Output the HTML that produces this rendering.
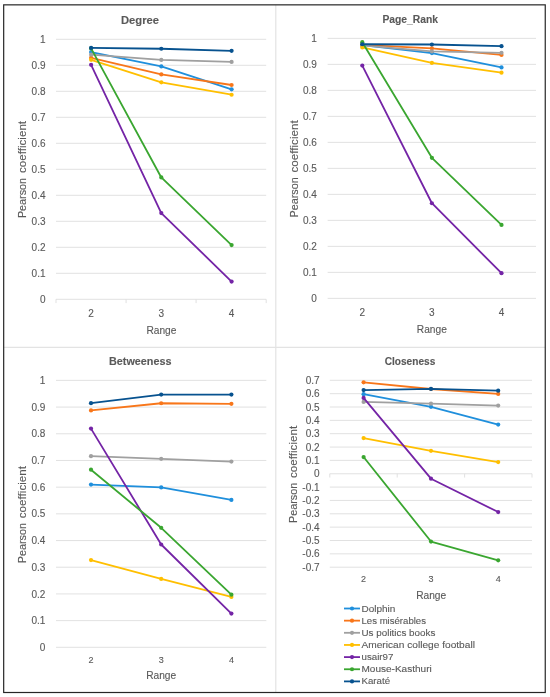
<!DOCTYPE html>
<html><head><meta charset="utf-8"><title>chart</title>
<style>html,body{margin:0;padding:0;background:#fff;width:550px;height:697px;overflow:hidden}svg{display:block;filter:blur(0.3px)}text{font-family:"Liberation Sans", sans-serif}</style>
</head><body>
<svg width="550" height="697" viewBox="0 0 550 697" font-family='"Liberation Sans", sans-serif' fill="#595959">
<style>text{stroke:#595959;stroke-width:0.12px;paint-order:stroke}</style>
<rect x="0" y="0" width="550" height="697" fill="#ffffff"/>
<line x1="275.8" y1="5" x2="275.8" y2="692" stroke="#e3e3e3" stroke-width="1.2"/>
<line x1="4" y1="347.3" x2="545" y2="347.3" stroke="#e3e3e3" stroke-width="1.2"/>
<line x1="56" y1="299.3" x2="266.2" y2="299.3" stroke="#dedede" stroke-width="0.9"/>
<line x1="56" y1="273.3" x2="266.2" y2="273.3" stroke="#dedede" stroke-width="0.9"/>
<line x1="56" y1="247.3" x2="266.2" y2="247.3" stroke="#dedede" stroke-width="0.9"/>
<line x1="56" y1="221.3" x2="266.2" y2="221.3" stroke="#dedede" stroke-width="0.9"/>
<line x1="56" y1="195.3" x2="266.2" y2="195.3" stroke="#dedede" stroke-width="0.9"/>
<line x1="56" y1="169.3" x2="266.2" y2="169.3" stroke="#dedede" stroke-width="0.9"/>
<line x1="56" y1="143.3" x2="266.2" y2="143.3" stroke="#dedede" stroke-width="0.9"/>
<line x1="56" y1="117.3" x2="266.2" y2="117.3" stroke="#dedede" stroke-width="0.9"/>
<line x1="56" y1="91.3" x2="266.2" y2="91.3" stroke="#dedede" stroke-width="0.9"/>
<line x1="56" y1="65.3" x2="266.2" y2="65.3" stroke="#dedede" stroke-width="0.9"/>
<line x1="56" y1="39.3" x2="266.2" y2="39.3" stroke="#dedede" stroke-width="0.9"/>
<line x1="56" y1="299.3" x2="56" y2="303.1" stroke="#dedede" stroke-width="0.9"/>
<line x1="126.1" y1="299.3" x2="126.1" y2="303.1" stroke="#dedede" stroke-width="0.9"/>
<line x1="196.1" y1="299.3" x2="196.1" y2="303.1" stroke="#dedede" stroke-width="0.9"/>
<line x1="266.2" y1="299.3" x2="266.2" y2="303.1" stroke="#dedede" stroke-width="0.9"/>
<text x="45.5" y="302.9" font-size="10" text-anchor="end" >0</text>
<text x="45.5" y="276.9" font-size="10" text-anchor="end" >0.1</text>
<text x="45.5" y="250.9" font-size="10" text-anchor="end" >0.2</text>
<text x="45.5" y="224.9" font-size="10" text-anchor="end" >0.3</text>
<text x="45.5" y="198.9" font-size="10" text-anchor="end" >0.4</text>
<text x="45.5" y="172.9" font-size="10" text-anchor="end" >0.5</text>
<text x="45.5" y="146.9" font-size="10" text-anchor="end" >0.6</text>
<text x="45.5" y="120.9" font-size="10" text-anchor="end" >0.7</text>
<text x="45.5" y="94.9" font-size="10" text-anchor="end" >0.8</text>
<text x="45.5" y="68.9" font-size="10" text-anchor="end" >0.9</text>
<text x="45.5" y="42.9" font-size="10" text-anchor="end" >1</text>
<text x="91.1" y="316.6" font-size="10" text-anchor="middle" >2</text>
<text x="161.3" y="316.6" font-size="10" text-anchor="middle" >3</text>
<text x="231.6" y="316.6" font-size="10" text-anchor="middle" >4</text>
<text x="161.4" y="333.7" font-size="10.2" text-anchor="middle" textLength="30" lengthAdjust="spacingAndGlyphs" >Range</text>
<text transform="translate(25.9,218.1) rotate(-90)" x="0" y="0" font-size="10.6" textLength="40.2" lengthAdjust="spacingAndGlyphs">Pearson</text>
<text transform="translate(25.9,173.1) rotate(-90)" x="0" y="0" font-size="10.6" textLength="52.2" lengthAdjust="spacingAndGlyphs">coefficient</text>
<text x="140" y="24.1" font-size="10.6" text-anchor="middle" font-weight="bold" textLength="38" lengthAdjust="spacingAndGlyphs" >Degree</text>
<polyline points="91.1,52.04 161.3,66.39 231.6,89.3" fill="none" stroke="#1f8fdc" stroke-width="1.8" stroke-linejoin="round" stroke-linecap="round"/>
<circle cx="91.1" cy="52.04" r="2.1" fill="#1f8fdc"/>
<circle cx="161.3" cy="66.39" r="2.1" fill="#1f8fdc"/>
<circle cx="231.6" cy="89.3" r="2.1" fill="#1f8fdc"/>
<polyline points="91.1,57.76 161.3,74.45 231.6,85.01" fill="none" stroke="#f8761a" stroke-width="1.8" stroke-linejoin="round" stroke-linecap="round"/>
<circle cx="91.1" cy="57.76" r="2.1" fill="#f8761a"/>
<circle cx="161.3" cy="74.45" r="2.1" fill="#f8761a"/>
<circle cx="231.6" cy="85.01" r="2.1" fill="#f8761a"/>
<polyline points="91.1,54.64 161.3,59.97 231.6,61.97" fill="none" stroke="#a0a0a0" stroke-width="1.8" stroke-linejoin="round" stroke-linecap="round"/>
<circle cx="91.1" cy="54.64" r="2.1" fill="#a0a0a0"/>
<circle cx="161.3" cy="59.97" r="2.1" fill="#a0a0a0"/>
<circle cx="231.6" cy="61.97" r="2.1" fill="#a0a0a0"/>
<polyline points="91.1,59.84 161.3,82.36 231.6,94.73" fill="none" stroke="#ffbf00" stroke-width="1.8" stroke-linejoin="round" stroke-linecap="round"/>
<circle cx="91.1" cy="59.84" r="2.1" fill="#ffbf00"/>
<circle cx="161.3" cy="82.36" r="2.1" fill="#ffbf00"/>
<circle cx="231.6" cy="94.73" r="2.1" fill="#ffbf00"/>
<polyline points="91.1,64.78 161.3,213.11 231.6,281.54" fill="none" stroke="#7424a6" stroke-width="1.8" stroke-linejoin="round" stroke-linecap="round"/>
<circle cx="91.1" cy="64.78" r="2.1" fill="#7424a6"/>
<circle cx="161.3" cy="213.11" r="2.1" fill="#7424a6"/>
<circle cx="231.6" cy="281.54" r="2.1" fill="#7424a6"/>
<polyline points="91.1,48.4 161.3,177.46 231.6,245.09" fill="none" stroke="#3aa630" stroke-width="1.8" stroke-linejoin="round" stroke-linecap="round"/>
<circle cx="91.1" cy="48.4" r="2.1" fill="#3aa630"/>
<circle cx="161.3" cy="177.46" r="2.1" fill="#3aa630"/>
<circle cx="231.6" cy="245.09" r="2.1" fill="#3aa630"/>
<polyline points="91.1,47.88 161.3,48.74 231.6,50.79" fill="none" stroke="#07528f" stroke-width="1.8" stroke-linejoin="round" stroke-linecap="round"/>
<circle cx="91.1" cy="47.88" r="2.1" fill="#07528f"/>
<circle cx="161.3" cy="48.74" r="2.1" fill="#07528f"/>
<circle cx="231.6" cy="50.79" r="2.1" fill="#07528f"/>
<line x1="327.7" y1="298.4" x2="536" y2="298.4" stroke="#dedede" stroke-width="0.9"/>
<line x1="327.7" y1="272.4" x2="536" y2="272.4" stroke="#dedede" stroke-width="0.9"/>
<line x1="327.7" y1="246.4" x2="536" y2="246.4" stroke="#dedede" stroke-width="0.9"/>
<line x1="327.7" y1="220.4" x2="536" y2="220.4" stroke="#dedede" stroke-width="0.9"/>
<line x1="327.7" y1="194.4" x2="536" y2="194.4" stroke="#dedede" stroke-width="0.9"/>
<line x1="327.7" y1="168.4" x2="536" y2="168.4" stroke="#dedede" stroke-width="0.9"/>
<line x1="327.7" y1="142.4" x2="536" y2="142.4" stroke="#dedede" stroke-width="0.9"/>
<line x1="327.7" y1="116.4" x2="536" y2="116.4" stroke="#dedede" stroke-width="0.9"/>
<line x1="327.7" y1="90.4" x2="536" y2="90.4" stroke="#dedede" stroke-width="0.9"/>
<line x1="327.7" y1="64.4" x2="536" y2="64.4" stroke="#dedede" stroke-width="0.9"/>
<line x1="327.7" y1="38.4" x2="536" y2="38.4" stroke="#dedede" stroke-width="0.9"/>
<text x="316.9" y="302" font-size="10" text-anchor="end" >0</text>
<text x="316.9" y="276" font-size="10" text-anchor="end" >0.1</text>
<text x="316.9" y="250" font-size="10" text-anchor="end" >0.2</text>
<text x="316.9" y="224" font-size="10" text-anchor="end" >0.3</text>
<text x="316.9" y="198" font-size="10" text-anchor="end" >0.4</text>
<text x="316.9" y="172" font-size="10" text-anchor="end" >0.5</text>
<text x="316.9" y="146" font-size="10" text-anchor="end" >0.6</text>
<text x="316.9" y="120" font-size="10" text-anchor="end" >0.7</text>
<text x="316.9" y="94" font-size="10" text-anchor="end" >0.8</text>
<text x="316.9" y="68" font-size="10" text-anchor="end" >0.9</text>
<text x="316.9" y="42" font-size="10" text-anchor="end" >1</text>
<text x="362.3" y="316.3" font-size="10" text-anchor="middle" >2</text>
<text x="431.9" y="316.3" font-size="10" text-anchor="middle" >3</text>
<text x="501.5" y="316.3" font-size="10" text-anchor="middle" >4</text>
<text x="431.8" y="333.4" font-size="10.2" text-anchor="middle" textLength="30" lengthAdjust="spacingAndGlyphs" >Range</text>
<text transform="translate(298,217.5) rotate(-90)" x="0" y="0" font-size="10.6" textLength="40.2" lengthAdjust="spacingAndGlyphs">Pearson</text>
<text transform="translate(298,172.5) rotate(-90)" x="0" y="0" font-size="10.6" textLength="52.2" lengthAdjust="spacingAndGlyphs">coefficient</text>
<text x="410.2" y="23.1" font-size="10.6" text-anchor="middle" font-weight="bold" textLength="55.6" lengthAdjust="spacingAndGlyphs" >Page_Rank</text>
<polyline points="362.3,45.16 431.9,53.09 501.5,67.39" fill="none" stroke="#1f8fdc" stroke-width="1.8" stroke-linejoin="round" stroke-linecap="round"/>
<circle cx="362.3" cy="45.16" r="2.1" fill="#1f8fdc"/>
<circle cx="431.9" cy="53.09" r="2.1" fill="#1f8fdc"/>
<circle cx="501.5" cy="67.39" r="2.1" fill="#1f8fdc"/>
<polyline points="362.3,44.9 431.9,48.28 501.5,54.96" fill="none" stroke="#f8761a" stroke-width="1.8" stroke-linejoin="round" stroke-linecap="round"/>
<circle cx="362.3" cy="44.9" r="2.1" fill="#f8761a"/>
<circle cx="431.9" cy="48.28" r="2.1" fill="#f8761a"/>
<circle cx="501.5" cy="54.96" r="2.1" fill="#f8761a"/>
<polyline points="362.3,45.42 431.9,51.4 501.5,52.8" fill="none" stroke="#a0a0a0" stroke-width="1.8" stroke-linejoin="round" stroke-linecap="round"/>
<circle cx="362.3" cy="45.42" r="2.1" fill="#a0a0a0"/>
<circle cx="431.9" cy="51.4" r="2.1" fill="#a0a0a0"/>
<circle cx="501.5" cy="52.8" r="2.1" fill="#a0a0a0"/>
<polyline points="362.3,47.4 431.9,62.89 501.5,72.72" fill="none" stroke="#ffbf00" stroke-width="1.8" stroke-linejoin="round" stroke-linecap="round"/>
<circle cx="362.3" cy="47.4" r="2.1" fill="#ffbf00"/>
<circle cx="431.9" cy="62.89" r="2.1" fill="#ffbf00"/>
<circle cx="501.5" cy="72.72" r="2.1" fill="#ffbf00"/>
<polyline points="362.3,65.6 431.9,203.24 501.5,273.21" fill="none" stroke="#7424a6" stroke-width="1.8" stroke-linejoin="round" stroke-linecap="round"/>
<circle cx="362.3" cy="65.6" r="2.1" fill="#7424a6"/>
<circle cx="431.9" cy="203.24" r="2.1" fill="#7424a6"/>
<circle cx="501.5" cy="273.21" r="2.1" fill="#7424a6"/>
<polyline points="362.3,42.17 431.9,157.79 501.5,224.9" fill="none" stroke="#3aa630" stroke-width="1.8" stroke-linejoin="round" stroke-linecap="round"/>
<circle cx="362.3" cy="42.17" r="2.1" fill="#3aa630"/>
<circle cx="431.9" cy="157.79" r="2.1" fill="#3aa630"/>
<circle cx="501.5" cy="224.9" r="2.1" fill="#3aa630"/>
<polyline points="362.3,44.25 431.9,44.48 501.5,46.2" fill="none" stroke="#07528f" stroke-width="1.8" stroke-linejoin="round" stroke-linecap="round"/>
<circle cx="362.3" cy="44.25" r="2.1" fill="#07528f"/>
<circle cx="431.9" cy="44.48" r="2.1" fill="#07528f"/>
<circle cx="501.5" cy="46.2" r="2.1" fill="#07528f"/>
<line x1="56" y1="647.3" x2="266.3" y2="647.3" stroke="#dedede" stroke-width="0.9"/>
<line x1="56" y1="620.61" x2="266.3" y2="620.61" stroke="#dedede" stroke-width="0.9"/>
<line x1="56" y1="593.92" x2="266.3" y2="593.92" stroke="#dedede" stroke-width="0.9"/>
<line x1="56" y1="567.23" x2="266.3" y2="567.23" stroke="#dedede" stroke-width="0.9"/>
<line x1="56" y1="540.54" x2="266.3" y2="540.54" stroke="#dedede" stroke-width="0.9"/>
<line x1="56" y1="513.85" x2="266.3" y2="513.85" stroke="#dedede" stroke-width="0.9"/>
<line x1="56" y1="487.16" x2="266.3" y2="487.16" stroke="#dedede" stroke-width="0.9"/>
<line x1="56" y1="460.47" x2="266.3" y2="460.47" stroke="#dedede" stroke-width="0.9"/>
<line x1="56" y1="433.78" x2="266.3" y2="433.78" stroke="#dedede" stroke-width="0.9"/>
<line x1="56" y1="407.09" x2="266.3" y2="407.09" stroke="#dedede" stroke-width="0.9"/>
<line x1="56" y1="380.4" x2="266.3" y2="380.4" stroke="#dedede" stroke-width="0.9"/>
<text x="45.3" y="650.9" font-size="10" text-anchor="end" >0</text>
<text x="45.3" y="624.21" font-size="10" text-anchor="end" >0.1</text>
<text x="45.3" y="597.52" font-size="10" text-anchor="end" >0.2</text>
<text x="45.3" y="570.83" font-size="10" text-anchor="end" >0.3</text>
<text x="45.3" y="544.14" font-size="10" text-anchor="end" >0.4</text>
<text x="45.3" y="517.45" font-size="10" text-anchor="end" >0.5</text>
<text x="45.3" y="490.76" font-size="10" text-anchor="end" >0.6</text>
<text x="45.3" y="464.07" font-size="10" text-anchor="end" >0.7</text>
<text x="45.3" y="437.38" font-size="10" text-anchor="end" >0.8</text>
<text x="45.3" y="410.69" font-size="10" text-anchor="end" >0.9</text>
<text x="45.3" y="384" font-size="10" text-anchor="end" >1</text>
<text x="91" y="662.5" font-size="9" text-anchor="middle" >2</text>
<text x="161.2" y="662.5" font-size="9" text-anchor="middle" >3</text>
<text x="231.4" y="662.5" font-size="9" text-anchor="middle" >4</text>
<text x="161.2" y="679" font-size="10.2" text-anchor="middle" textLength="30" lengthAdjust="spacingAndGlyphs" >Range</text>
<text transform="translate(26.3,563.2) rotate(-90)" x="0" y="0" font-size="10.6" textLength="40.2" lengthAdjust="spacingAndGlyphs">Pearson</text>
<text transform="translate(26.3,518.2) rotate(-90)" x="0" y="0" font-size="10.6" textLength="52.2" lengthAdjust="spacingAndGlyphs">coefficient</text>
<text x="140.25" y="365" font-size="10.6" text-anchor="middle" font-weight="bold" textLength="62.5" lengthAdjust="spacingAndGlyphs" >Betweeness</text>
<polyline points="91,484.6 161.2,487.43 231.4,499.89" fill="none" stroke="#1f8fdc" stroke-width="1.8" stroke-linejoin="round" stroke-linecap="round"/>
<circle cx="91" cy="484.6" r="2.1" fill="#1f8fdc"/>
<circle cx="161.2" cy="487.43" r="2.1" fill="#1f8fdc"/>
<circle cx="231.4" cy="499.89" r="2.1" fill="#1f8fdc"/>
<polyline points="91,410.4 161.2,403.27 231.4,403.81" fill="none" stroke="#f8761a" stroke-width="1.8" stroke-linejoin="round" stroke-linecap="round"/>
<circle cx="91" cy="410.4" r="2.1" fill="#f8761a"/>
<circle cx="161.2" cy="403.27" r="2.1" fill="#f8761a"/>
<circle cx="231.4" cy="403.81" r="2.1" fill="#f8761a"/>
<polyline points="91,456.2 161.2,458.79 231.4,461.54" fill="none" stroke="#a0a0a0" stroke-width="1.8" stroke-linejoin="round" stroke-linecap="round"/>
<circle cx="91" cy="456.2" r="2.1" fill="#a0a0a0"/>
<circle cx="161.2" cy="458.79" r="2.1" fill="#a0a0a0"/>
<circle cx="231.4" cy="461.54" r="2.1" fill="#a0a0a0"/>
<polyline points="91,560.1 161.2,578.89 231.4,596.91" fill="none" stroke="#ffbf00" stroke-width="1.8" stroke-linejoin="round" stroke-linecap="round"/>
<circle cx="91" cy="560.1" r="2.1" fill="#ffbf00"/>
<circle cx="161.2" cy="578.89" r="2.1" fill="#ffbf00"/>
<circle cx="231.4" cy="596.91" r="2.1" fill="#ffbf00"/>
<polyline points="91,428.6 161.2,544.49 231.4,613.59" fill="none" stroke="#7424a6" stroke-width="1.8" stroke-linejoin="round" stroke-linecap="round"/>
<circle cx="91" cy="428.6" r="2.1" fill="#7424a6"/>
<circle cx="161.2" cy="544.49" r="2.1" fill="#7424a6"/>
<circle cx="231.4" cy="613.59" r="2.1" fill="#7424a6"/>
<polyline points="91,469.7 161.2,527.81 231.4,594.72" fill="none" stroke="#3aa630" stroke-width="1.8" stroke-linejoin="round" stroke-linecap="round"/>
<circle cx="91" cy="469.7" r="2.1" fill="#3aa630"/>
<circle cx="161.2" cy="527.81" r="2.1" fill="#3aa630"/>
<circle cx="231.4" cy="594.72" r="2.1" fill="#3aa630"/>
<polyline points="91,403.19 161.2,394.55 231.4,394.55" fill="none" stroke="#07528f" stroke-width="1.8" stroke-linejoin="round" stroke-linecap="round"/>
<circle cx="91" cy="403.19" r="2.1" fill="#07528f"/>
<circle cx="161.2" cy="394.55" r="2.1" fill="#07528f"/>
<circle cx="231.4" cy="394.55" r="2.1" fill="#07528f"/>
<line x1="329.8" y1="380.3" x2="532" y2="380.3" stroke="#dedede" stroke-width="0.9"/>
<line x1="329.8" y1="393.65" x2="532" y2="393.65" stroke="#dedede" stroke-width="0.9"/>
<line x1="329.8" y1="407" x2="532" y2="407" stroke="#dedede" stroke-width="0.9"/>
<line x1="329.8" y1="420.35" x2="532" y2="420.35" stroke="#dedede" stroke-width="0.9"/>
<line x1="329.8" y1="433.7" x2="532" y2="433.7" stroke="#dedede" stroke-width="0.9"/>
<line x1="329.8" y1="447.05" x2="532" y2="447.05" stroke="#dedede" stroke-width="0.9"/>
<line x1="329.8" y1="460.4" x2="532" y2="460.4" stroke="#dedede" stroke-width="0.9"/>
<line x1="329.8" y1="473.75" x2="532" y2="473.75" stroke="#dedede" stroke-width="0.9"/>
<line x1="329.8" y1="487.1" x2="532" y2="487.1" stroke="#dedede" stroke-width="0.9"/>
<line x1="329.8" y1="500.45" x2="532" y2="500.45" stroke="#dedede" stroke-width="0.9"/>
<line x1="329.8" y1="513.8" x2="532" y2="513.8" stroke="#dedede" stroke-width="0.9"/>
<line x1="329.8" y1="527.15" x2="532" y2="527.15" stroke="#dedede" stroke-width="0.9"/>
<line x1="329.8" y1="540.5" x2="532" y2="540.5" stroke="#dedede" stroke-width="0.9"/>
<line x1="329.8" y1="553.85" x2="532" y2="553.85" stroke="#dedede" stroke-width="0.9"/>
<line x1="329.8" y1="567.2" x2="532" y2="567.2" stroke="#dedede" stroke-width="0.9"/>
<line x1="329.8" y1="473.75" x2="329.8" y2="477.55" stroke="#dedede" stroke-width="0.9"/>
<line x1="397.2" y1="473.75" x2="397.2" y2="477.55" stroke="#dedede" stroke-width="0.9"/>
<line x1="464.6" y1="473.75" x2="464.6" y2="477.55" stroke="#dedede" stroke-width="0.9"/>
<line x1="532" y1="473.75" x2="532" y2="477.55" stroke="#dedede" stroke-width="0.9"/>
<text x="319.6" y="383.9" font-size="10" text-anchor="end" >0.7</text>
<text x="319.6" y="397.25" font-size="10" text-anchor="end" >0.6</text>
<text x="319.6" y="410.6" font-size="10" text-anchor="end" >0.5</text>
<text x="319.6" y="423.95" font-size="10" text-anchor="end" >0.4</text>
<text x="319.6" y="437.3" font-size="10" text-anchor="end" >0.3</text>
<text x="319.6" y="450.65" font-size="10" text-anchor="end" >0.2</text>
<text x="319.6" y="464" font-size="10" text-anchor="end" >0.1</text>
<text x="319.6" y="477.35" font-size="10" text-anchor="end" >0</text>
<text x="319.6" y="490.7" font-size="10" text-anchor="end" >-0.1</text>
<text x="319.6" y="504.05" font-size="10" text-anchor="end" >-0.2</text>
<text x="319.6" y="517.4" font-size="10" text-anchor="end" >-0.3</text>
<text x="319.6" y="530.75" font-size="10" text-anchor="end" >-0.4</text>
<text x="319.6" y="544.1" font-size="10" text-anchor="end" >-0.5</text>
<text x="319.6" y="557.45" font-size="10" text-anchor="end" >-0.6</text>
<text x="319.6" y="570.8" font-size="10" text-anchor="end" >-0.7</text>
<text x="363.6" y="582" font-size="9" text-anchor="middle" >2</text>
<text x="431" y="582" font-size="9" text-anchor="middle" >3</text>
<text x="498.2" y="582" font-size="9" text-anchor="middle" >4</text>
<text x="431.2" y="599.1" font-size="10.2" text-anchor="middle" textLength="30" lengthAdjust="spacingAndGlyphs" >Range</text>
<text transform="translate(297,523) rotate(-90)" x="0" y="0" font-size="10.6" textLength="40.2" lengthAdjust="spacingAndGlyphs">Pearson</text>
<text transform="translate(297,478) rotate(-90)" x="0" y="0" font-size="10.6" textLength="52.2" lengthAdjust="spacingAndGlyphs">coefficient</text>
<text x="410" y="365" font-size="10.6" text-anchor="middle" font-weight="bold" textLength="50.6" lengthAdjust="spacingAndGlyphs" >Closeness</text>
<polyline points="363.6,394.22 431,406.84 498.2,424.57" fill="none" stroke="#1f8fdc" stroke-width="1.8" stroke-linejoin="round" stroke-linecap="round"/>
<circle cx="363.6" cy="394.22" r="2.1" fill="#1f8fdc"/>
<circle cx="431" cy="406.84" r="2.1" fill="#1f8fdc"/>
<circle cx="498.2" cy="424.57" r="2.1" fill="#1f8fdc"/>
<polyline points="363.6,382.34 431,388.98 498.2,393.97" fill="none" stroke="#f8761a" stroke-width="1.8" stroke-linejoin="round" stroke-linecap="round"/>
<circle cx="363.6" cy="382.34" r="2.1" fill="#f8761a"/>
<circle cx="431" cy="388.98" r="2.1" fill="#f8761a"/>
<circle cx="498.2" cy="393.97" r="2.1" fill="#f8761a"/>
<polyline points="363.6,401.97 431,403.7 498.2,405.6" fill="none" stroke="#a0a0a0" stroke-width="1.8" stroke-linejoin="round" stroke-linecap="round"/>
<circle cx="363.6" cy="401.97" r="2.1" fill="#a0a0a0"/>
<circle cx="431" cy="403.7" r="2.1" fill="#a0a0a0"/>
<circle cx="498.2" cy="405.6" r="2.1" fill="#a0a0a0"/>
<polyline points="363.6,438.11 431,450.85 498.2,462.07" fill="none" stroke="#ffbf00" stroke-width="1.8" stroke-linejoin="round" stroke-linecap="round"/>
<circle cx="363.6" cy="438.11" r="2.1" fill="#ffbf00"/>
<circle cx="431" cy="450.85" r="2.1" fill="#ffbf00"/>
<circle cx="498.2" cy="462.07" r="2.1" fill="#ffbf00"/>
<polyline points="363.6,397.95 431,478.69 498.2,512.06" fill="none" stroke="#7424a6" stroke-width="1.8" stroke-linejoin="round" stroke-linecap="round"/>
<circle cx="363.6" cy="397.95" r="2.1" fill="#7424a6"/>
<circle cx="431" cy="478.69" r="2.1" fill="#7424a6"/>
<circle cx="498.2" cy="512.06" r="2.1" fill="#7424a6"/>
<polyline points="363.6,457.06 431,541.53 498.2,560.36" fill="none" stroke="#3aa630" stroke-width="1.8" stroke-linejoin="round" stroke-linecap="round"/>
<circle cx="363.6" cy="457.06" r="2.1" fill="#3aa630"/>
<circle cx="431" cy="541.53" r="2.1" fill="#3aa630"/>
<circle cx="498.2" cy="560.36" r="2.1" fill="#3aa630"/>
<polyline points="363.6,390.03 431,388.94 498.2,390.7" fill="none" stroke="#07528f" stroke-width="1.8" stroke-linejoin="round" stroke-linecap="round"/>
<circle cx="363.6" cy="390.03" r="2.1" fill="#07528f"/>
<circle cx="431" cy="388.94" r="2.1" fill="#07528f"/>
<circle cx="498.2" cy="390.7" r="2.1" fill="#07528f"/>
<line x1="344" y1="608.5" x2="360" y2="608.5" stroke="#1f8fdc" stroke-width="1.8"/>
<circle cx="352" cy="608.5" r="2.1" fill="#1f8fdc"/>
<text x="361.5" y="611.5" font-size="9.7" text-anchor="start" textLength="33.9" lengthAdjust="spacingAndGlyphs" >Dolphin</text>
<line x1="344" y1="620.65" x2="360" y2="620.65" stroke="#f8761a" stroke-width="1.8"/>
<circle cx="352" cy="620.65" r="2.1" fill="#f8761a"/>
<text x="361.5" y="623.65" font-size="9.7" text-anchor="start" textLength="64.5" lengthAdjust="spacingAndGlyphs" >Les misérables</text>
<line x1="344" y1="632.8" x2="360" y2="632.8" stroke="#a0a0a0" stroke-width="1.8"/>
<circle cx="352" cy="632.8" r="2.1" fill="#a0a0a0"/>
<text x="361.5" y="635.8" font-size="9.7" text-anchor="start" textLength="73.8" lengthAdjust="spacingAndGlyphs" >Us politics books</text>
<line x1="344" y1="644.95" x2="360" y2="644.95" stroke="#ffbf00" stroke-width="1.8"/>
<circle cx="352" cy="644.95" r="2.1" fill="#ffbf00"/>
<text x="361.5" y="647.95" font-size="9.7" text-anchor="start" textLength="113.4" lengthAdjust="spacingAndGlyphs" >American college football</text>
<line x1="344" y1="657.1" x2="360" y2="657.1" stroke="#7424a6" stroke-width="1.8"/>
<circle cx="352" cy="657.1" r="2.1" fill="#7424a6"/>
<text x="361.5" y="660.1" font-size="9.7" text-anchor="start" textLength="31.9" lengthAdjust="spacingAndGlyphs" >usair97</text>
<line x1="344" y1="669.25" x2="360" y2="669.25" stroke="#3aa630" stroke-width="1.8"/>
<circle cx="352" cy="669.25" r="2.1" fill="#3aa630"/>
<text x="361.5" y="672.25" font-size="9.7" text-anchor="start" textLength="70.2" lengthAdjust="spacingAndGlyphs" >Mouse-Kasthuri</text>
<line x1="344" y1="681.4" x2="360" y2="681.4" stroke="#07528f" stroke-width="1.8"/>
<circle cx="352" cy="681.4" r="2.1" fill="#07528f"/>
<text x="361.5" y="684.4" font-size="9.7" text-anchor="start" textLength="28.6" lengthAdjust="spacingAndGlyphs" >Karaté</text>
<rect x="3.68" y="4.85" width="541.57" height="687.65" fill="none" stroke="#262626" stroke-width="1.2"/>
</svg>
</body></html>
